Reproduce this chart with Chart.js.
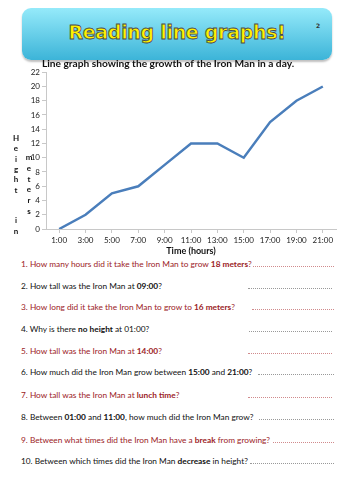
<!DOCTYPE html>
<html>
<head>
<meta charset="utf-8">
<script src="https://cdn.jsdelivr.net/npm/chart.js@4.4.1/dist/chart.umd.min.js"></script>
<style>
  html, body { margin:0; padding:0; background:#fff; }
  body { width:354px; height:500px; position:relative; overflow:hidden; font-family:"Comic Sans MS","Lato",sans-serif; }
  #banner { position:absolute; left:22px; top:8px; width:310px; height:52px; border-radius:9px;
    background:linear-gradient(#95eafa, #3cb4d8); box-shadow:0 2px 2px rgba(0,0,0,0.25); }
  #banner h1 { margin:0; position:absolute; left:0; right:0; top:13px; text-align:center;
    font-family:"DejaVu Sans",sans-serif; font-weight:bold; font-size:19px; color:#fff200;
    -webkit-text-stroke:0.8px #4a4a4a; letter-spacing:-0.3px; }
  #pg { position:absolute; left:294px; top:14px; font-family:"DejaVu Sans",sans-serif; font-size:6px; font-weight:bold; color:#333; }
  #chartbox { position:absolute; left:0; top:56px; width:354px; height:200px; }
  .yl { position:absolute; font-size:8px; font-weight:bold; color:#111; width:8px; text-align:center; line-height:10px; }
  .q { position:absolute; left:21px; font-size:8.3px; line-height:11px; white-space:nowrap; color:#111; }
  .q.r { color:#9b2226; }
  .q b { font-weight:bold; }
  .dots { position:absolute; height:0; border-bottom:1px dotted #999; }
  .dots.r { border-bottom-color:#d08a8c; }
</style>
</head>
<body>
<div id="banner"><h1>Reading line graphs!</h1><span id="pg">2</span></div>
<div id="chartbox"><canvas id="c" width="354" height="200"></canvas></div>
<div id="ytitle"></div>

<div class="q r" style="top:259px">1. How many hours did it take the Iron Man to grow <b>18 meters</b>?</div>
<div class="q" style="top:281px">2. How tall was the Iron Man at <b>09:00</b>?</div>
<div class="q r" style="top:302px">3. How long did it take the Iron Man to grow to <b>16 meters</b>?</div>
<div class="q" style="top:324px">4. Why is there <b>no height</b> at 01:00?</div>
<div class="q r" style="top:346px">5. How tall was the Iron Man at <b>14:00</b>?</div>
<div class="q" style="top:367px">6. How much did the Iron Man grow between <b>15:00</b> and <b>21:00</b>?</div>
<div class="q r" style="top:390px">7. How tall was the Iron Man at <b>lunch time</b>?</div>
<div class="q" style="top:412px">8. Between <b>01:00</b> and <b>11:00</b>, how much did the Iron Man grow?</div>
<div class="q r" style="top:435px">9. Between what times did the Iron Man have a <b>break</b> from growing?</div>
<div class="q" style="top:456px">10. Between which times did the Iron Man <b>decrease</b> in height?</div>

<div class="dots r" style="left:253px;width:81px;top:266px"></div>
<div class="dots" style="left:248px;width:84px;top:288px"></div>
<div class="dots r" style="left:252px;width:82px;top:309px"></div>
<div class="dots" style="left:249px;width:83px;top:331px"></div>
<div class="dots r" style="left:248px;width:84px;top:353px"></div>
<div class="dots" style="left:258px;width:76px;top:374px"></div>
<div class="dots r" style="left:248px;width:84px;top:397px"></div>
<div class="dots" style="left:259px;width:75px;top:419px"></div>
<div class="dots r" style="left:273px;width:61px;top:442px"></div>
<div class="dots" style="left:250px;width:84px;top:463px"></div>

<script>
const times = ["1:00","3:00","5:00","7:00","9:00","11:00","13:00","15:00","17:00","19:00","21:00"];
const heights = [0, 2, 5, 6, 9, 12, 12, 10, 15, 18, 20];
const yTitleCol1 = ["H","e","i","g","h","t","","","i","n"];
const yTitleCol2 = ["m","e","t","e","r","s"];
const chartTitle = "Line graph showing the growth of the Iron Man in a day.";
const xTitle = "Time (hours)";

// stacked y-axis title letters (as real text)
const yt = document.getElementById('ytitle');
yTitleCol1.forEach((ch, i) => {
  const d = document.createElement('div'); d.className = 'yl'; d.textContent = ch;
  d.style.left = '12px'; d.style.top = (133 + i * 10.3) + 'px'; yt.appendChild(d);
});
yTitleCol2.forEach((ch, i) => {
  const d = document.createElement('div'); d.className = 'yl'; d.textContent = ch;
  d.style.left = '25px'; d.style.top = (152 + i * 10.8) + 'px'; yt.appendChild(d);
});

const FONT = '"Comic Sans MS","Lato",sans-serif';
Chart.defaults.font.family = FONT;
new Chart(document.getElementById('c'), {
  type: 'line',
  data: { labels: times, datasets: [{ data: heights, borderColor: '#4a7ebb', borderWidth: 2.5,
    pointRadius: 0, tension: 0, fill: false }] },
  options: {
    responsive: false, animation: false,
    layout: { padding: { left: 0, right: 18, top: 0, bottom: 0 } },
    plugins: {
      legend: { display: false }, tooltip: { enabled: false },
      title: { display: true, text: chartTitle, color: '#111', font: { size: 10.2, weight: 'bold', family: FONT },
        padding: { top: 2, bottom: 2 } }
    },
    scales: {
      x: { offset: true,
        grid: { drawOnChartArea: false, drawTicks: true, tickLength: 4, color: '#c8c8c8', offset: false },
        border: { color: '#c8c8c8' },
        ticks: { color: '#222', font: { size: 8 }, padding: 3, maxRotation: 0, autoSkip: false },
        title: { display: true, text: xTitle, color: '#111', font: { size: 9, weight: 'bold' }, padding: { top: 0, bottom: 0 } },
        afterFit: s => { s.height = 27; }
      },
      y: { min: 0, max: 22,
        grid: { drawOnChartArea: false, drawTicks: true, tickLength: 4, color: '#c8c8c8' },
        border: { color: '#c8c8c8' },
        ticks: { stepSize: 2, color: '#222', font: { size: 8 }, padding: 2 },
        afterFit: s => { s.width = 46; }
      }
    }
  }
});
</script>
</body>
</html>
